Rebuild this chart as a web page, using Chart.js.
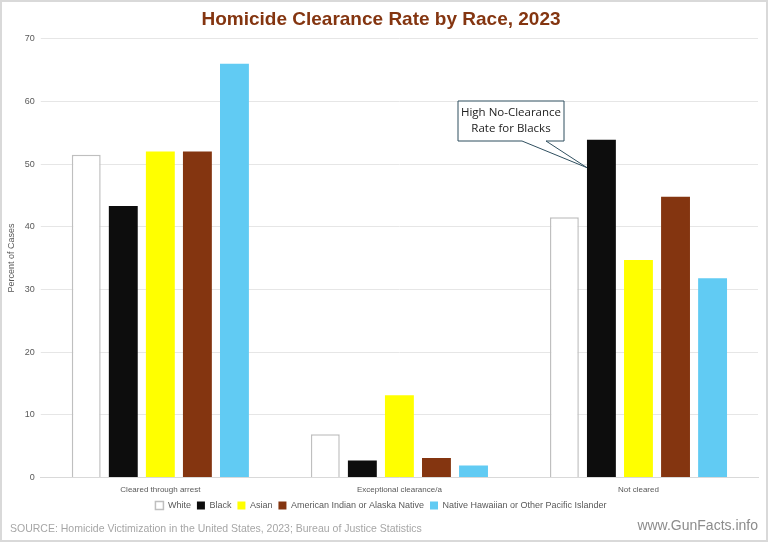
<!DOCTYPE html>
<html>
<head>
<meta charset="utf-8">
<script src="https://cdn.jsdelivr.net/npm/chart.js@4.4.1/dist/chart.umd.min.js"></script>
<style>
  html, body { margin: 0; padding: 0; background: #fff; }
  #wrap { position: relative; width: 768px; height: 542px; box-sizing: border-box; border: 2px solid #d9d9d9; }
  canvas { display: block; }
</style>
</head>
<body>
<div id="wrap"><canvas id="chart" width="764" height="538"></canvas></div>
<script>
// Datos
const categories = ['Cleared through arrest', 'Exceptional clearance/a', 'Not cleared'];
const white = [51.5, 6.9, 41.5];
const black = [43.3, 2.7, 53.9];
const asian = [52.0, 13.1, 34.7];
const aian = [52.0, 3.1, 44.8];
const nhopi = [66.0, 1.9, 31.8];
const yTicks = [0, 10, 20, 30, 40, 50, 60, 70];

const GRAY = '#595959';

/**
 * Dibuja la nota "High No-Clearance" y el pie de página
 */
const extrasPlugin = {
    id: 'extras',
    afterDraw(chart) {
        const ctx = chart.ctx;
        // Barra Black en "Not cleared"
        const bar = chart.getDatasetMeta(1).data[2];
        const tipX = bar.x - bar.width / 2;
        const tipY = bar.y + 28;

        const bx = 456, by = 99, bw = 106, bh = 40;
        ctx.save();
        ctx.strokeStyle = '#2f4f5f';
        ctx.lineWidth = 1;
        ctx.fillStyle = '#fff';
        ctx.beginPath();
        ctx.moveTo(bx, by);
        ctx.lineTo(bx + bw, by);
        ctx.lineTo(bx + bw, by + bh);
        ctx.lineTo(bx + 88, by + bh);
        ctx.lineTo(tipX, tipY);
        ctx.lineTo(bx + 64, by + bh);
        ctx.lineTo(bx, by + bh);
        ctx.closePath();
        ctx.fill();
        ctx.stroke();

        ctx.fillStyle = '#222';
        ctx.font = '11.5px "Open Sans", sans-serif';
        ctx.textAlign = 'center';
        ctx.textBaseline = 'middle';
        ctx.fillText('High No-Clearance', bx + bw / 2, by + 12);
        ctx.fillText('Rate for Blacks', bx + bw / 2, by + 28);

        // Pie de página
        ctx.textAlign = 'left';
        ctx.fillStyle = '#a6a6a6';
        ctx.font = '10.5px "Liberation Sans", sans-serif';
        ctx.fillText('SOURCE: Homicide Victimization in the United States, 2023; Bureau of Justice Statistics', 8, 527);
        ctx.textAlign = 'right';
        ctx.font = '14px "Liberation Sans", sans-serif';
        ctx.fillStyle = '#8c8c8c';
        ctx.fillText('www.GunFacts.info', 756, 524);
        ctx.restore();
    }
};

function ds(label, data, color, border) {
    return {
        label: label,
        data: data,
        backgroundColor: color,
        borderColor: border || color,
        borderWidth: border ? 1.5 : 0,
        categoryPercentage: 0.775,
        barPercentage: 0.78
    };
}

new Chart(document.getElementById('chart'), {
    type: 'bar',
    data: {
        labels: categories,
        datasets: [
            ds('White', white, '#ffffff', '#bfbfbf'),
            ds('Black', black, '#0d0d0d'),
            ds('Asian', asian, '#ffff00'),
            ds('American Indian or Alaska Native', aian, '#843510'),
            ds('Native Hawaiian or Other Pacific Islander', nhopi, '#61cbf3')
        ]
    },
    options: {
        responsive: false,
        animation: false,
        layout: { padding: { left: 2, right: 8, top: 0, bottom: 20 } },
        plugins: {
            title: {
                display: true,
                text: 'Homicide Clearance Rate by Race, 2023',
                color: '#843510',
                font: { family: '"Liberation Sans", sans-serif', size: 19, weight: 'bold' },
                padding: { top: 6, bottom: 8 }
            },
            legend: {
                position: 'bottom',
                labels: {
                    boxWidth: 8,
                    boxHeight: 8,
                    color: GRAY,
                    font: { family: '"Liberation Sans", sans-serif', size: 9 },
                    padding: 6
                }
            },
            tooltip: { enabled: false }
        },
        scales: {
            x: {
                grid: { display: false },
                border: { color: '#d9d9d9' },
                ticks: { color: GRAY, font: { family: '"Liberation Sans", sans-serif', size: 8 }, padding: 0 }
            },
            y: {
                min: 0,
                max: 70,
                afterBuildTicks(scale) { scale.ticks = yTicks.map(v => ({ value: v })); },
                grid: { color: '#e6e6e6', tickLength: 0 },
                border: { display: false },
                ticks: { color: GRAY, font: { family: '"Liberation Sans", sans-serif', size: 9 }, padding: 6 },
                title: {
                    display: true,
                    text: 'Percent of Cases',
                    color: GRAY,
                    font: { family: '"Liberation Sans", sans-serif', size: 9 },
                    padding: 2
                }
            }
        }
    },
    plugins: [extrasPlugin]
});
</script>
</body>
</html>
